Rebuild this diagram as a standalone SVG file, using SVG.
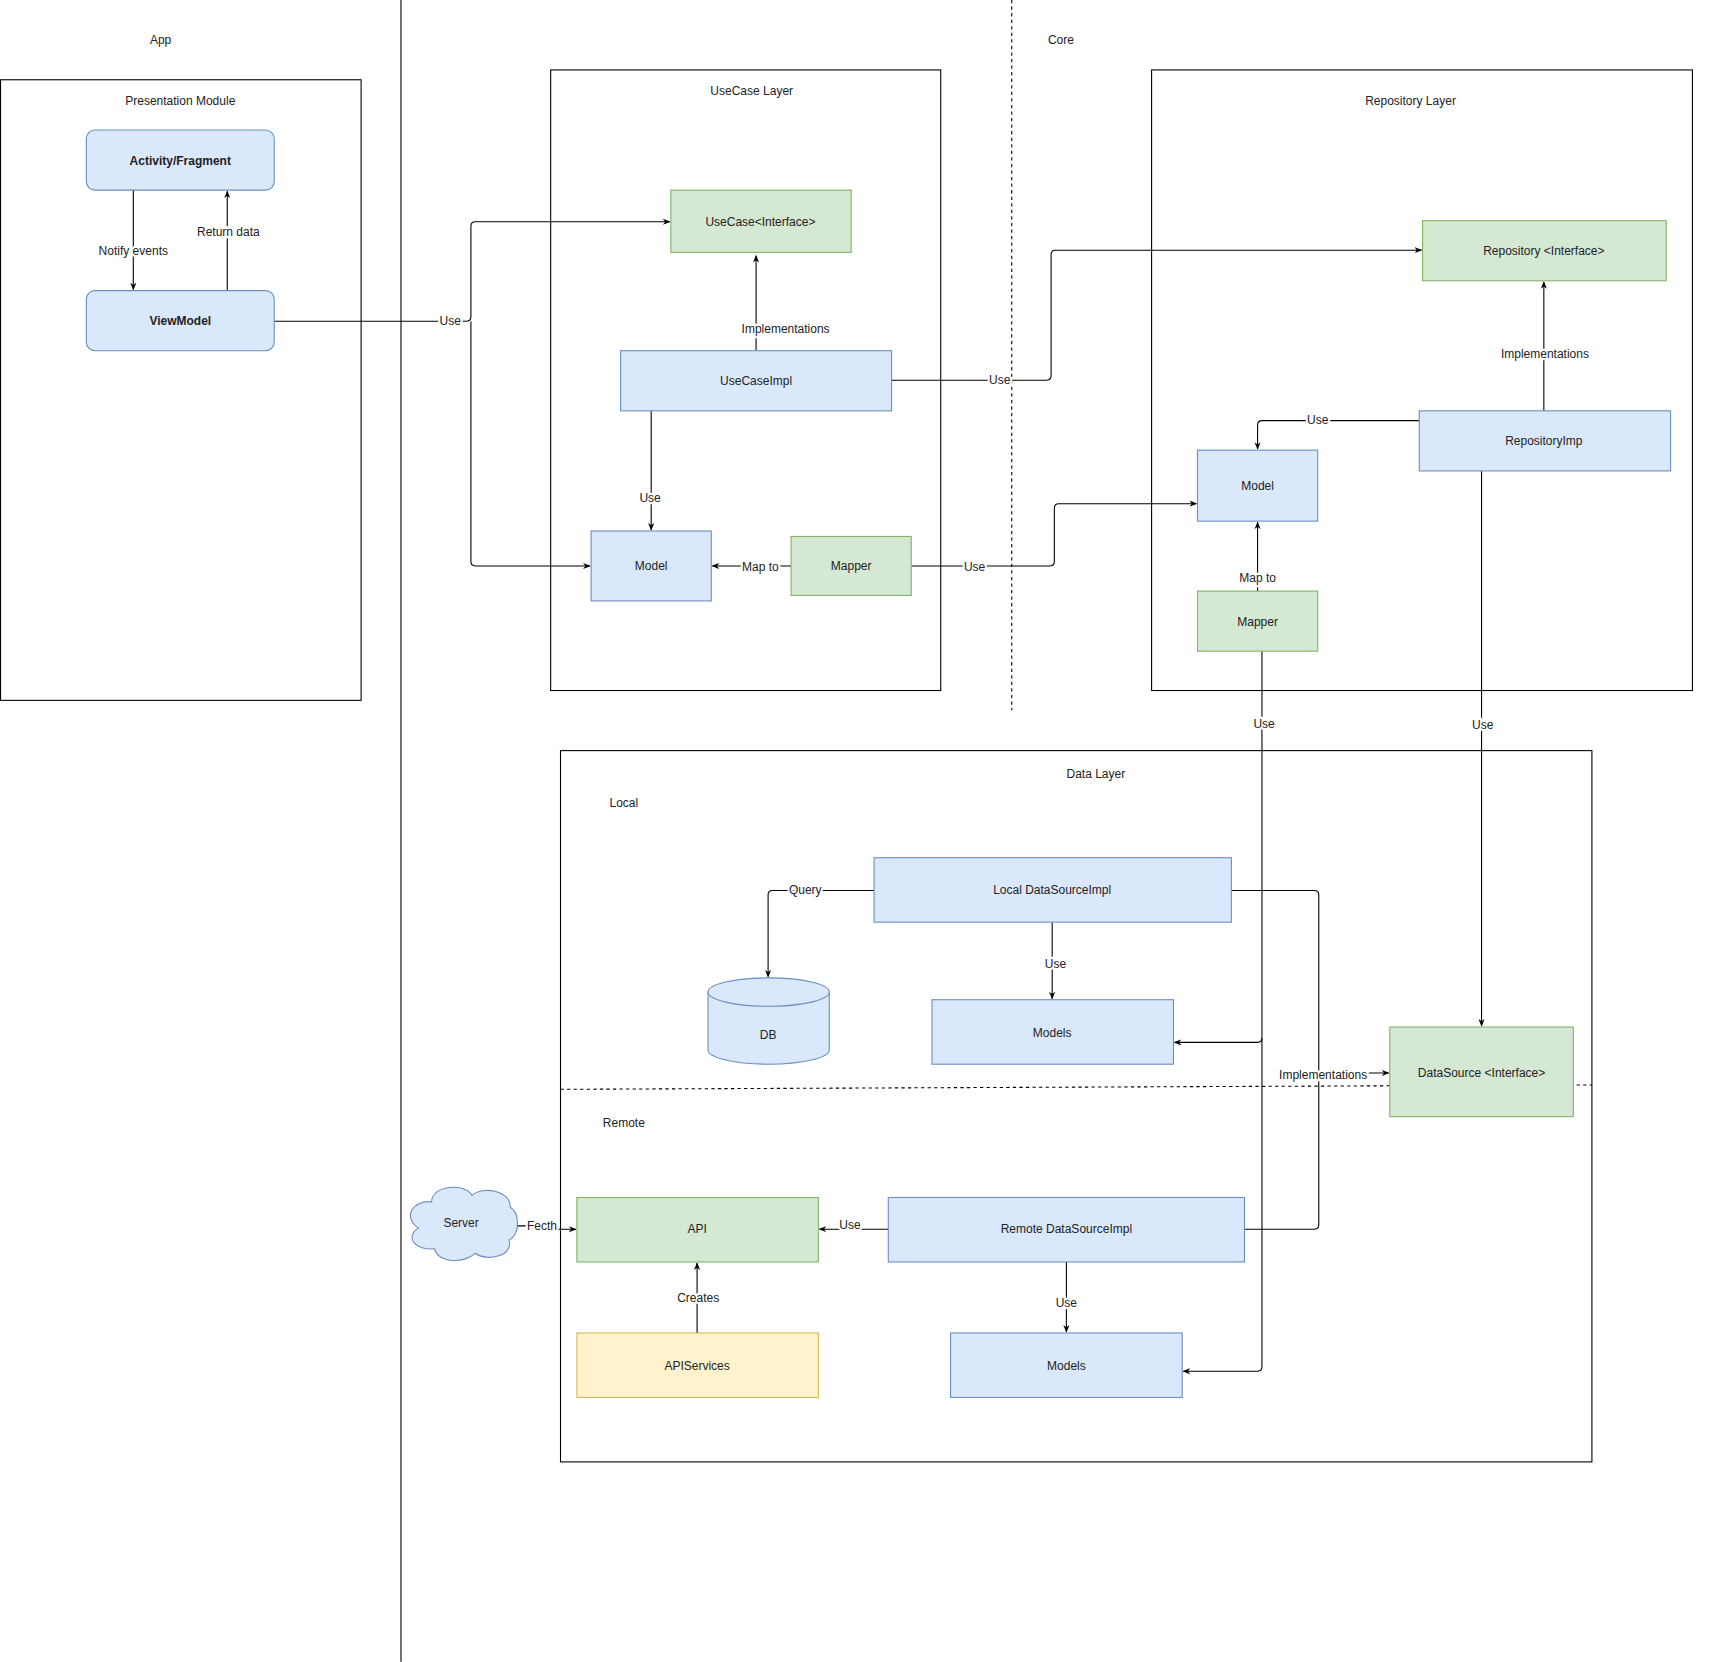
<svg xmlns="http://www.w3.org/2000/svg" width="1711" height="1662" viewBox="0 0 1711 1662">
<style>
text{font-family:"Liberation Sans",Arial,sans-serif;font-size:11px;fill:#222;text-anchor:middle;dominant-baseline:central}
.b{fill:#dae8fc;stroke:#6c8ebf}
.g{fill:#d5e8d4;stroke:#82b366}
.y{fill:#fff2cc;stroke:#d6b656}
.c{fill:none;stroke:#000}
.e{fill:none;stroke:#000;marker-end:url(#a)}
.l{paint-order:stroke;stroke:#fff;stroke-width:4px}
.bold{font-weight:bold}
</style>
<defs><marker id="a" viewBox="0 0 10 10" refX="9" refY="5" markerWidth="7" markerHeight="7" orient="auto-start-reverse"><path d="M0,1 L10,5 L0,9 L3,5 Z" fill="#000"/></marker></defs>
<rect width="1711" height="1662" fill="#fff"/>
<g transform="scale(1.0926)">
<g id="frames">
<text x="147" y="37">App</text><text x="971" y="37">Core</text>
<line x1="367" y1="0" x2="367" y2="1521" stroke="#000"/>
<line x1="926" y1="0" x2="926" y2="650" stroke="#000" stroke-dasharray="3,3"/>
<rect x="0.5" y="73" width="330" height="568" class="c"/><text x="165" y="92">Presentation Module</text>
<rect x="504" y="64" width="357" height="568" class="c"/><text x="688" y="83">UseCase Layer</text>
<rect x="1054" y="64" width="495" height="568" class="c"/><text x="1291" y="92">Repository Layer</text>
<rect x="513" y="687" width="944" height="651" class="c"/><text x="1003" y="708">Data Layer</text>
<text x="571" y="735">Local</text><text x="571" y="1028">Remote</text>
<line x1="513" y1="997" x2="1457" y2="993" stroke="#000" stroke-dasharray="3,3"/>
</g>
<g id="connectors">
<path class="e" d="M122,174 V265"/><text class="l" x="122" y="230">Notify events</text>
<path class="e" d="M208,266 V175"/><text class="l" x="209" y="212">Return data</text>
<path class="e" d="M251,294 H427 Q431,294 431,290 V207 Q431,203 435,203 H613"/>
<path class="e" d="M431,294 V514 Q431,518 435,518 H540"/><text class="l" x="412" y="294">Use</text>
<path class="e" d="M692,321 V234"/><text class="l" x="719" y="301">Implementations</text>
<path class="e" d="M596,376 V485"/><text class="l" x="595" y="456">Use</text>
<path class="e" d="M724,518 H652"/><text class="l" x="696" y="519">Map to</text>
<path class="e" d="M816,348 H958 Q962,348 962,344 V233 Q962,229 966,229 H1301"/><text class="l" x="915" y="348">Use</text>
<path class="e" d="M834,518 H961 Q965,518 965,514 V465 Q965,461 969,461 H1095"/><text class="l" x="892" y="519">Use</text>
<path class="e" d="M1413,376 V258"/><text class="l" x="1414" y="324">Implementations</text>
<path class="e" d="M1299,385 H1155 Q1151,385 1151,389 V411"/><text class="l" x="1206" y="384">Use</text>
<path class="e" d="M1151,541 V478"/><text class="l" x="1151" y="529">Map to</text>
<path class="e" d="M1155,596 V1251 Q1155,1255 1151,1255 H1083"/>
<path class="e" d="M1155,950 Q1155,954 1151,954 H1075"/><text class="l" x="1157" y="663">Use</text>
<path class="e" d="M1356,431 V939"/><text class="l" x="1357" y="664">Use</text>
<path class="e" d="M800,815 H707 Q703,815 703,819 V894"/><text class="l" x="737" y="815">Query</text>
<path class="e" d="M963,844 V914"/><text class="l" x="966" y="882">Use</text>
<path class="c" d="M1127,815 H1203 Q1207,815 1207,819 V1121 Q1207,1125 1203,1125 H1139"/>
<path class="e" d="M1207,982 H1271"/><text class="l" x="1211" y="984">Implementations</text>
<path class="e" d="M813,1125 H750"/><text class="l" x="778" y="1121">Use</text>
<path class="e" d="M976,1155 V1219"/><text class="l" x="976" y="1193">Use</text>
<path class="e" d="M638,1220 V1156"/><text class="l" x="639" y="1188">Creates</text>
<path class="e" style="marker-start:url(#a)" d="M468,1122 H490 M502,1125 H527"/><text class="l" x="496" y="1122">Fecth</text>
</g>
<g id="activity"><rect class="b" x="79" y="119" width="172" height="55" rx="8"/><text class="bold" x="165" y="147">Activity/Fragment</text></g>
<g id="viewmodel"><rect class="b" x="79" y="266" width="172" height="55" rx="8"/><text class="bold" x="165" y="294">ViewModel</text></g>
<g id="usecase-if"><rect class="g" x="614" y="174" width="165" height="57"/><text x="696" y="203">UseCase&lt;Interface&gt;</text></g>
<g id="usecaseimpl"><rect class="b" x="568" y="321" width="248" height="55"/><text x="692" y="349">UseCaseImpl</text></g>
<g id="uc-model"><rect class="b" x="541" y="486" width="110" height="64"/><text x="596" y="518">Model</text></g>
<g id="uc-mapper"><rect class="g" x="724" y="491" width="110" height="54"/><text x="779" y="518">Mapper</text></g>
<g id="repo-if"><rect class="g" x="1302" y="202" width="223" height="55"/><text x="1413" y="230">Repository &lt;Interface&gt;</text></g>
<g id="repoimp"><rect class="b" x="1299" y="376" width="230" height="55"/><text x="1413" y="404">RepositoryImp</text></g>
<g id="repo-model"><rect class="b" x="1096" y="412" width="110" height="65"/><text x="1151" y="445">Model</text></g>
<g id="repo-mapper"><rect class="g" x="1096" y="541" width="110" height="55"/><text x="1151" y="569">Mapper</text></g>
<g id="local-ds"><rect class="b" x="800" y="785" width="327" height="59"/><text x="963" y="815">Local DataSourceImpl</text></g>
<g id="db"><path class="b" d="M648,908 A55.5,13 0 0 1 759,908 V961 A55.5,13 0 0 1 648,961 Z"/><path class="b" d="M648,908 A55.5,13 0 0 0 759,908" fill="none"/><text x="703" y="947">DB</text></g>
<g id="local-models"><rect class="b" x="853" y="915" width="221" height="59"/><text x="963" y="945">Models</text></g>
<g id="ds-if"><rect class="g" x="1272" y="940" width="168" height="82"/><text x="1356" y="982">DataSource &lt;Interface&gt;</text></g>
<g id="api"><rect class="g" x="528" y="1096" width="221" height="59"/><text x="638" y="1125">API</text></g>
<g id="remote-ds"><rect class="b" x="813" y="1096" width="326" height="59"/><text x="976" y="1125">Remote DataSourceImpl</text></g>
<g id="remote-models"><rect class="b" x="870" y="1220" width="212" height="59"/><text x="976" y="1250">Models</text></g>
<g id="apiservices"><rect class="y" x="528" y="1220" width="221" height="59"/><text x="638" y="1250">APIServices</text></g>
<g id="server"><path class="b" d="M395,1100 C395,1085 425,1082 432,1094 C442,1085 468,1090 467,1105 C476,1110 476,1130 466,1135 C470,1150 445,1155 435,1147 C425,1157 400,1156 398,1143 C380,1145 370,1132 383,1124 C368,1114 378,1098 395,1100 Z"/><text x="422" y="1119">Server</text></g>
</g>
</svg>
